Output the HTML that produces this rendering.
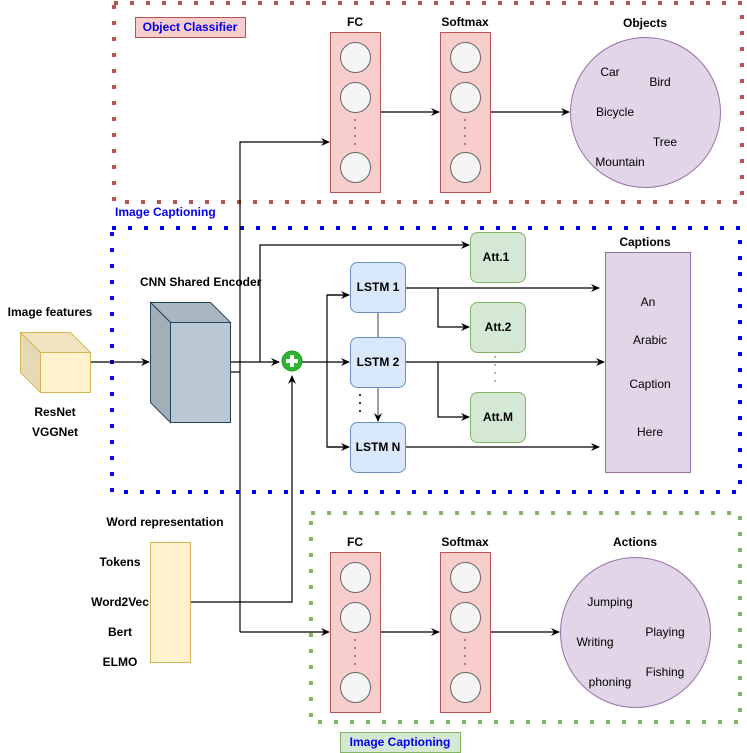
<!DOCTYPE html>
<html><head><meta charset="utf-8"><style>
html,body{margin:0;padding:0;background:#fff}
svg{display:block}
text{font-family:"Liberation Sans",sans-serif;font-size:12px;fill:#000}
.b{font-weight:bold}
</style></head><body>
<svg width="747" height="753" viewBox="0 0 747 753" xmlns="http://www.w3.org/2000/svg">
<defs>
<marker id="a" markerWidth="10" markerHeight="8" refX="8" refY="4" orient="auto" markerUnits="userSpaceOnUse">
<path d="M0,0 L9,4 L0,8 L3,4 z" fill="#000"/></marker>
</defs>
<!-- dotted borders -->
<rect x="114" y="3" width="628" height="199" fill="none" stroke="#b85450" stroke-width="4" stroke-dasharray="4 12"/>
<rect x="112" y="228" width="628" height="264" fill="none" stroke="#0000ee" stroke-width="4" stroke-dasharray="4 12"/>
<rect x="311" y="513" width="429" height="209" fill="none" stroke="#82b366" stroke-width="4" stroke-dasharray="4 12"/>

<rect x="135.5" y="17.5" width="110" height="20" fill="#f8cecc" stroke="#b85450"/>
<text x="190" y="31" text-anchor="middle" class="b" fill="#0000ee" style="fill:#0000ee">Object Classifier</text>
<text x="115" y="216" class="b" style="fill:#0000ee">Image Captioning</text>
<rect x="340.5" y="732.5" width="120" height="20" fill="#d5e8d4" stroke="#82b366"/>
<text x="400" y="746" text-anchor="middle" class="b" style="fill:#0000ee">Image Captioning</text>

<!-- connectors -->
<g stroke="#000" stroke-width="1.2" fill="none">
<line x1="90" y1="362" x2="149" y2="362" marker-end="url(#a)"/>
<line x1="230" y1="362" x2="279" y2="362" marker-end="url(#a)"/>
<polyline points="230,372 240,372"/>
<polyline points="240,632 240,142 329,142" marker-end="url(#a)"/>
<line x1="240" y1="632" x2="329" y2="632" marker-end="url(#a)"/>
<polyline points="260,362 260,245 469,245" marker-end="url(#a)"/>
<line x1="302" y1="362" x2="349" y2="362" marker-end="url(#a)"/>
<polyline points="349,295 327,295 327,447 349,447"/>
<line x1="327" y1="295" x2="349" y2="295" marker-end="url(#a)"/>
<line x1="327" y1="447" x2="349" y2="447" marker-end="url(#a)"/>
<polyline points="190,602 292,602 292,376" marker-end="url(#a)"/>
<line x1="405" y1="288" x2="599" y2="288" marker-end="url(#a)"/>
<polyline points="438,288 438,327 469,327" marker-end="url(#a)"/>
<line x1="405" y1="362" x2="604" y2="362" marker-end="url(#a)"/>
<polyline points="438,362 438,417 469,417" marker-end="url(#a)"/>
<line x1="405" y1="447" x2="599" y2="447" marker-end="url(#a)"/>
<line x1="380" y1="112" x2="439" y2="112" marker-end="url(#a)"/>
<line x1="490" y1="112" x2="569" y2="112" marker-end="url(#a)"/>
<line x1="380" y1="632" x2="439" y2="632" marker-end="url(#a)"/>
<line x1="490" y1="632" x2="559" y2="632" marker-end="url(#a)"/>
</g>
<line x1="378" y1="312" x2="378" y2="338" stroke="#808080" stroke-width="1.5"/>
<line x1="378" y1="387" x2="378" y2="421" stroke="#808080" stroke-width="1.5" marker-end="url(#a)"/>
<g fill="#000"><circle cx="360" cy="387" r="1"/><circle cx="360" cy="395" r="1"/><circle cx="360" cy="403" r="1"/><circle cx="360" cy="411" r="1"/></g>
<g fill="#82b366"><circle cx="495" cy="357" r="1"/><circle cx="495" cy="365" r="1"/><circle cx="495" cy="373" r="1"/><circle cx="495" cy="381" r="1"/></g>

<!-- cube -->
<polygon points="20.5,332.5 70.5,332.5 90.5,352.5 40.5,352.5" fill="#f0e4c0" stroke="#d6b656"/>
<polygon points="20.5,332.5 40.5,352.5 40.5,392.5 20.5,372.5" fill="#e6d9b5" stroke="#d6b656"/>
<rect x="40.5" y="352.5" width="50" height="40" fill="#fff2cc" stroke="#d6b656"/>
<text x="50" y="316" text-anchor="middle" class="b">Image features</text>
<text x="55" y="416" text-anchor="middle" class="b">ResNet</text>
<text x="55" y="436" text-anchor="middle" class="b">VGGNet</text>
<!-- CNN -->
<polygon points="150.5,302.5 210.5,302.5 230.5,322.5 170.5,322.5" fill="#aab6c0" stroke="#23445d"/>
<polygon points="150.5,302.5 170.5,322.5 170.5,422.5 150.5,402.5" fill="#a2aeb8" stroke="#23445d"/>
<rect x="170.5" y="322.5" width="60" height="100" fill="#bac8d3" stroke="#23445d"/>
<text x="140" y="286" class="b">CNN Shared Encoder</text>
<!-- plus -->
<circle cx="292" cy="361" r="10" fill="#2db52d" stroke="#1f9a1f"/>
<rect x="286" y="359" width="12" height="4" fill="#fff"/><rect x="290" y="355" width="4" height="12" fill="#fff"/>
<!-- LSTM -->
<g fill="#dae8fc" stroke="#6c8ebf">
<rect x="350.5" y="262.5" width="55" height="50" rx="7"/>
<rect x="350.5" y="337.5" width="55" height="50" rx="7"/>
<rect x="350.5" y="422.5" width="55" height="50" rx="7"/>
</g>
<text x="378" y="291" text-anchor="middle" class="b">LSTM 1</text>
<text x="378" y="366" text-anchor="middle" class="b">LSTM 2</text>
<text x="378" y="451" text-anchor="middle" class="b">LSTM N</text>
<g fill="#d5e8d4" stroke="#82b366">
<rect x="470.5" y="232.5" width="55" height="50" rx="7"/>
<rect x="470.5" y="302.5" width="55" height="50" rx="7"/>
<rect x="470.5" y="392.5" width="55" height="50" rx="7"/>
</g>
<text x="496" y="261" text-anchor="middle" class="b">Att.1</text>
<text x="498" y="331" text-anchor="middle" class="b">Att.2</text>
<text x="498" y="421" text-anchor="middle" class="b">Att.M</text>
<rect x="605.5" y="252.5" width="85" height="220" fill="#e1d5e7" stroke="#9673a6"/>
<text x="645" y="246" text-anchor="middle" class="b">Captions</text>
<text x="648" y="306" text-anchor="middle">An</text>
<text x="650" y="344" text-anchor="middle">Arabic</text>
<text x="650" y="388" text-anchor="middle">Caption</text>
<text x="650" y="436" text-anchor="middle">Here</text>

<!-- top FC/softmax -->
<g fill="#f8cecc" stroke="#b85450">
<rect x="330.5" y="32.5" width="50" height="160"/>
<rect x="440.5" y="32.5" width="50" height="160"/>
<rect x="330.5" y="552.5" width="50" height="160"/>
<rect x="440.5" y="552.5" width="50" height="160"/>
</g>
<g fill="#f5f5f5" stroke="#666">
<circle cx="355.5" cy="57.5" r="15"/><circle cx="355.5" cy="97.5" r="15"/><circle cx="355.5" cy="167.5" r="15"/>
<circle cx="465.5" cy="57.5" r="15"/><circle cx="465.5" cy="97.5" r="15"/><circle cx="465.5" cy="167.5" r="15"/>
<circle cx="355.5" cy="577.5" r="15"/><circle cx="355.5" cy="617.5" r="15"/><circle cx="355.5" cy="687.5" r="15"/>
<circle cx="465.5" cy="577.5" r="15"/><circle cx="465.5" cy="617.5" r="15"/><circle cx="465.5" cy="687.5" r="15"/>
</g>
<g fill="#b85450">
<circle cx="355" cy="120" r="1"/><circle cx="355" cy="128" r="1"/><circle cx="355" cy="136" r="1"/><circle cx="355" cy="144" r="1"/>
<circle cx="465" cy="120" r="1"/><circle cx="465" cy="128" r="1"/><circle cx="465" cy="136" r="1"/><circle cx="465" cy="144" r="1"/>
<circle cx="355" cy="640" r="1"/><circle cx="355" cy="648" r="1"/><circle cx="355" cy="656" r="1"/><circle cx="355" cy="664" r="1"/>
<circle cx="465" cy="640" r="1"/><circle cx="465" cy="648" r="1"/><circle cx="465" cy="656" r="1"/><circle cx="465" cy="664" r="1"/>
</g>
<text x="355" y="26" text-anchor="middle" class="b">FC</text>
<text x="465" y="26" text-anchor="middle" class="b">Softmax</text>
<text x="355" y="546" text-anchor="middle" class="b">FC</text>
<text x="465" y="546" text-anchor="middle" class="b">Softmax</text>

<circle cx="645.5" cy="112.5" r="75" fill="#e1d5e7" stroke="#9673a6"/>
<text x="645" y="27" text-anchor="middle" class="b">Objects</text>
<text x="610" y="76" text-anchor="middle">Car</text>
<text x="660" y="86" text-anchor="middle">Bird</text>
<text x="615" y="116" text-anchor="middle">Bicycle</text>
<text x="665" y="146" text-anchor="middle">Tree</text>
<text x="620" y="166" text-anchor="middle">Mountain</text>

<circle cx="635.5" cy="632.5" r="75" fill="#e1d5e7" stroke="#9673a6"/>
<text x="635" y="546" text-anchor="middle" class="b">Actions</text>
<text x="610" y="606" text-anchor="middle">Jumping</text>
<text x="665" y="636" text-anchor="middle">Playing</text>
<text x="595" y="646" text-anchor="middle">Writing</text>
<text x="665" y="676" text-anchor="middle">Fishing</text>
<text x="610" y="686" text-anchor="middle">phoning</text>

<rect x="150.5" y="542.5" width="40" height="120" fill="#fff2cc" stroke="#d6b656"/>
<text x="165" y="526" text-anchor="middle" class="b">Word representation</text>
<text x="120" y="566" text-anchor="middle" class="b">Tokens</text>
<text x="120" y="606" text-anchor="middle" class="b">Word2Vec</text>
<text x="120" y="636" text-anchor="middle" class="b">Bert</text>
<text x="120" y="666" text-anchor="middle" class="b">ELMO</text>
</svg>
</body></html>
